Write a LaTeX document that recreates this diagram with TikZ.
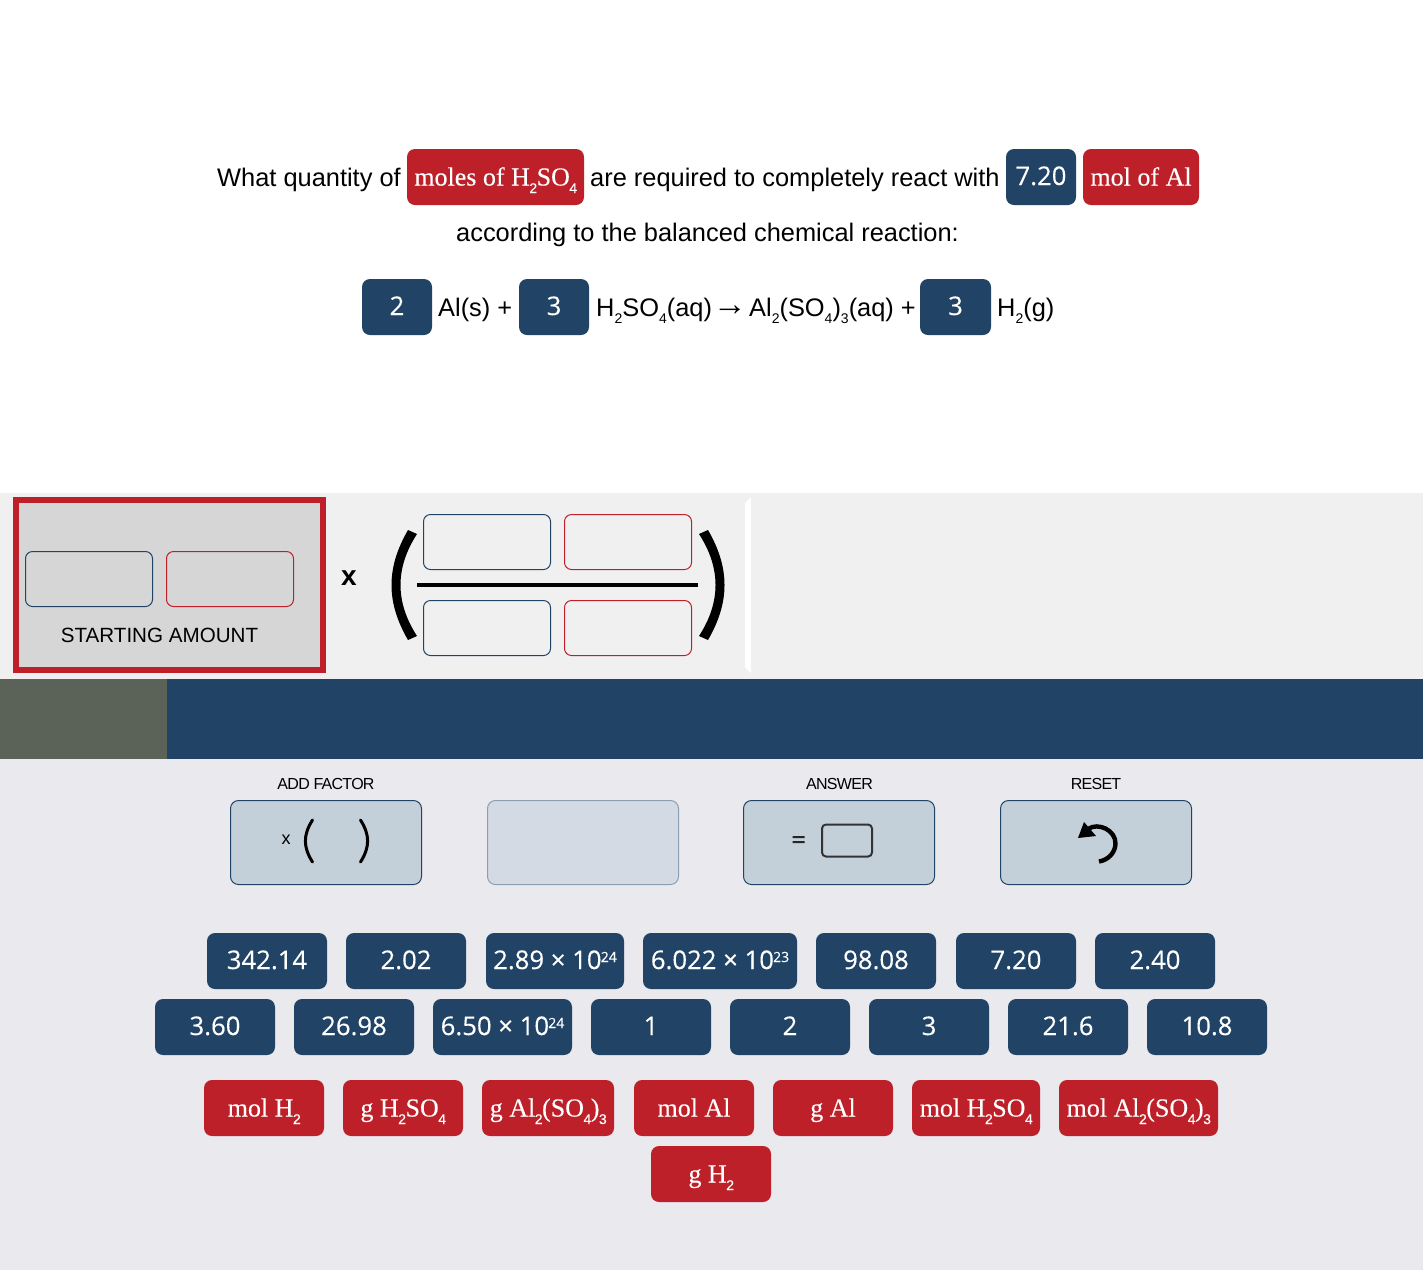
\documentclass[tikz,border=0pt]{standalone}
\usepackage{fontspec}
\setmainfont{Liberation Sans}
\newfontfamily\serf[FakeBold=0.2]{Liberation Serif}
\newfontfamily\opens[FakeBold=0.25]{Open Sans}
\newfontfamily\lblf[LetterSpace=-4.5]{Liberation Sans}
\newfontfamily\subf[FakeBold=0.3]{Liberation Sans}
\definecolor{navy}{HTML}{214466}
\definecolor{crim}{HTML}{BD2029}
\definecolor{panel}{HTML}{F0F0F0}
\definecolor{lower}{HTML}{E9E9EE}
\definecolor{startg}{HTML}{D6D6D6}
\definecolor{olive}{HTML}{5B6358}
\definecolor{btn}{HTML}{C3CFD9}
\definecolor{btnoff}{HTML}{D4DAE3}
\definecolor{btnoffl}{HTML}{8A9FB3}
\newcommand\sbx[1]{\raisebox{-7.5pt}{\fontsize{14}{14}\fontspec{Liberation Sans}#1}}
\newcommand\sbr[1]{\kern-0.5pt\raisebox{-7.5pt}{\fontsize{14}{14}\subf #1}\kern-0.5pt}
\newcommand\spx[1]{\kern-0.2pt\raisebox{7pt}{\fontsize{14}{14}\selectfont\kern-0.6pt #1}}
\newcommand\nb[5]{\pgfmathsetmacro\bcx{(#2+#3)/2}\pgfmathsetmacro\bw{#3-#2}\node[numbox,minimum width=\bw] (#1) at (\bcx,#4) {#5};}
\newcommand\rb[5]{\pgfmathsetmacro\bcx{(#2+#3)/2}\pgfmathsetmacro\bw{#3-#2}\node[unitbox,minimum width=\bw] (#1) at (\bcx,#4) {#5};}
\tikzset{
 numbox/.style={fill=navy,text=white,rounded corners=8pt,minimum height=56,inner sep=0pt,text height=16,text depth=0,font=\fontsize{25.7}{30}\opens},
 unitbox/.style={fill=crim,text=white,rounded corners=8pt,minimum height=56,inner sep=0pt,text height=17,text depth=0,font=\fontsize{26}{30}\serf},
 qtext/.style={anchor=base west,inner sep=0pt,font=\fontsize{25.4}{30}\selectfont,text=black},
 slot/.style={rounded corners=7pt,minimum width=127,minimum height=55,inner sep=0pt,line width=1pt},
 navyslot/.style={slot,draw=navy},
 crimslot/.style={slot,draw=crim},
 tool/.style={rounded corners=8pt,fill=btn,draw=navy,line width=1pt,minimum width=191,minimum height=84,inner sep=0pt},
 toollabel/.style={inner sep=0pt,font=\fontsize{16}{18}\lblf,text=black},
}
\begin{document}
\begin{tikzpicture}[x=1pt,y=-1pt]
\useasboundingbox (0,0) rectangle (1423,1270);
\fill[white] (0,0) rectangle (1423,493);
\fill[panel] (0,493) rectangle (1423,679);
\fill[white] (751,497) -- (745,503) -- (745,667) -- (751,673) -- cycle;
\fill[olive] (0,679) rectangle (167,759);
\fill[navy] (167,679) rectangle (1423,759);
\fill[lower] (0,759) rectangle (1423,1270);
% question
\node[qtext] (q1) at (217,186) {What quantity of};
\rb{qa}{407}{584}{177}{moles of H\sbr{2}SO\sbr{4}}
\node[qtext] (q2) at (590,186) {are required to completely react with};
\nb{qb}{1006}{1076}{177}{7.20}
\rb{qc}{1083}{1199}{177}{mol of Al}
\node[qtext,anchor=base] (q3) at (707.5,241) {according to the balanced chemical reaction:};
\nb{e1}{362}{432}{307}{2}
\node[qtext] (t1) at (438,316) {Al(s) +};
\nb{e2}{519}{589}{307}{3}
\node[qtext] (t2) at (596,316) {H\sbx{2}SO\sbx{4}(aq)};
\node[qtext,font=\fontsize{34}{36}\selectfont] (arr) at (712.6,315) {→};
\node[qtext] (t2b) at (749,316) {Al\sbx{2}(SO\sbx{4})\sbx{3}(aq) +};
\nb{e3}{920}{991}{307}{3}
\node[qtext] (t3) at (997,316) {H\sbx{2}(g)};
% starting amount
\node[draw=crim,fill=startg,line width=6pt,minimum width=307,minimum height=170,inner sep=0pt] (start) at (169.5,585) {};
\node[navyslot] (s1) at (89,579) {};
\node[crimslot] (s2) at (230,579) {};
\node[inner sep=0pt,font=\fontsize{20.6}{24}\selectfont] (slabel) at (159.5,635) {STARTING AMOUNT};
\node[inner sep=0pt,font=\fontsize{28}{30}\selectfont\bfseries] (times) at (349,578) {x};
% fraction
\node[navyslot] (f1) at (487,542) {};
\node[crimslot] (f2) at (628,542) {};
\node[navyslot] (f3) at (487,628) {};
\node[crimslot] (f4) at (628,628) {};
\fill[black] (417,583) rectangle (698,587);
\fill[black] (408,530) .. controls (386,568) and (386,602) .. (408,640) -- (417,636) .. controls (395,602) and (395,568) .. (417,534) -- cycle;
\fill[black] (708,530) .. controls (730,568) and (730,602) .. (708,640) -- (699,636) .. controls (721,602) and (721,568) .. (699,534) -- cycle;
% tools
\node[toollabel] (l1) at (326,783.5) {ADD FACTOR};
\node[toollabel] (l3) at (839.5,783.5) {ANSWER};
\node[toollabel] (l4) at (1096,783.5) {RESET};
\node[tool] (b1) at (326,842.5) {};
\node[tool,fill=btnoff,draw=btnoffl] (b2) at (583,842.5) {};
\node[tool] (b3) at (839,842.5) {};
\node[tool] (b4) at (1096,842.5) {};
\node[inner sep=0pt,font=\fontsize{18}{18}\selectfont] (bx) at (286,840) {x};
\draw[line width=3pt,line cap=round] (312.5,820) .. controls (303,835) and (303,847) .. (312.5,862);
\draw[line width=3pt,line cap=round] (360.5,820) .. controls (370,835) and (370,847) .. (360.5,862);
\fill[black!85] (792.5,836) rectangle (804.5,838) (792.5,841) rectangle (804.5,843);
\draw[draw=black!80,line width=2pt,rounded corners=4pt] (822,824.5) rectangle (872,856.5);
\draw[line width=4.4pt,black] (1088,829) .. controls (1098,822) and (1116,830) .. (1115.5,844) .. controls (1115,853) and (1108,860) .. (1099,861.5);
\fill[black] (1084,822) -- (1078,838) -- (1096,836) -- cycle;
% numbers
\nb{n1}{207}{327}{961}{342.14}
\nb{n2}{346}{466}{961}{2.02}
\nb{n3}{486}{624}{961}{2.89 × 10\spx{24}}
\nb{n4}{643}{797}{961}{6.022 × 10\spx{23}}
\nb{n5}{816}{936}{961}{98.08}
\nb{n6}{956}{1076}{961}{7.20}
\nb{n7}{1095}{1215}{961}{2.40}
\nb{m1}{155}{275}{1027}{3.60}
\nb{m2}{294}{414}{1027}{26.98}
\nb{m3}{433}{572}{1027}{6.50 × 10\spx{24}}
\nb{m4}{591}{711}{1027}{1}
\nb{m5}{730}{850}{1027}{2}
\nb{m6}{869}{989}{1027}{3}
\nb{m7}{1008}{1128}{1027}{21.6}
\nb{m8}{1147}{1267}{1027}{10.8}
% units
\rb{u1}{204}{324}{1108}{mol H\sbr{2}}
\rb{u2}{343}{463}{1108}{g H\sbr{2}SO\sbr{4}}
\rb{u3}{482}{614}{1108}{g Al\sbr{2}(SO\sbr{4})\sbr{3}}
\rb{u4}{634}{754}{1108}{mol Al}
\rb{u5}{773}{893}{1108}{g Al}
\rb{u6}{912}{1040}{1108}{mol H\sbr{2}SO\sbr{4}}
\rb{u7}{1059}{1218}{1108}{mol Al\sbr{2}(SO\sbr{4})\sbr{3}}
\rb{u8}{651}{771}{1174}{g H\sbr{2}}
\end{tikzpicture}
\end{document}
